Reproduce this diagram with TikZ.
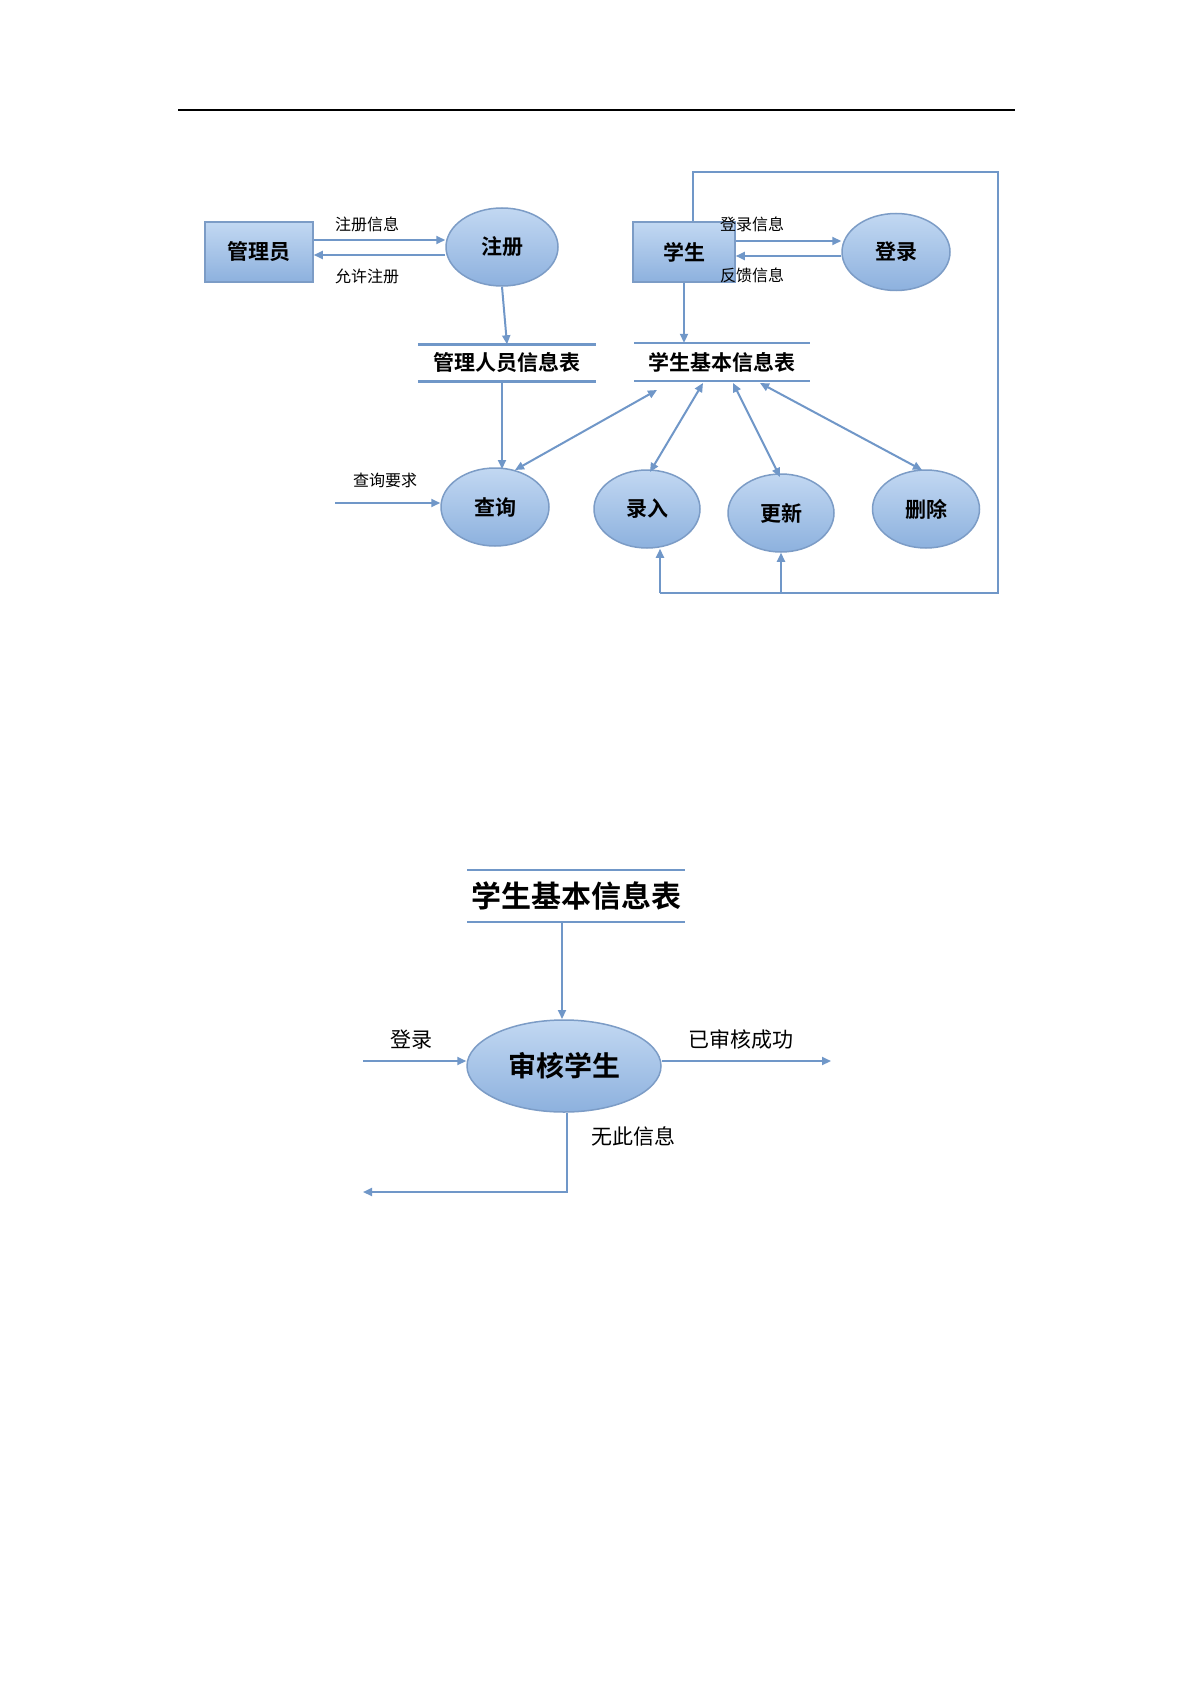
\documentclass[tikz,border=0pt]{standalone}
\usepackage{fontspec}
\setmainfont{Noto Sans CJK SC}
\newfontfamily\cjkb{Noto Sans CJK SC Bold}
\usetikzlibrary{shapes.geometric,arrows.meta}
\definecolor{ln}{HTML}{7097C8}
\definecolor{bd}{HTML}{7C9CC6}
\definecolor{ftop}{HTML}{C2D8F2}
\definecolor{fbot}{HTML}{8DB1DE}
\tikzset{
 ent/.style={draw=bd,line width=1.5pt,top color=ftop,bottom color=fbot,minimum width=108pt,minimum height=60pt,font=\cjkb\fontsize{21}{21}\selectfont},
 proc/.style={draw=bd,line width=1.5pt,ellipse,top color=ftop,bottom color=fbot,inner sep=0pt,font=\cjkb\fontsize{21}{21}\selectfont},
 flow/.style={draw=ln,line width=2pt,-{Triangle[length=9pt,width=8pt]}},
 both/.style={draw=ln,line width=2pt,{Triangle[length=9pt,width=8pt]}-{Triangle[length=9pt,width=8pt]}},
 lbl/.style={font=\fontsize{16}{16}\selectfont},
 st/.style={draw=ln,line width=2.5pt},
}
\begin{document}
\begin{tikzpicture}[x=1pt,y=-1pt]
\useasboundingbox (0,0) rectangle (1192,1685);
\fill[white] (0,0) rectangle (1192,1685);
\draw[line width=1.5pt] (178,110) -- (1015,110);
% top diagram
\node[ent,minimum width=108pt] (gly) at (259,252) {管理员};
\node[proc,minimum width=112pt,minimum height=78pt] (zc) at (502,247) {注册};
\node[ent,minimum width=102pt] (xs) at (684,252) {学生};
\node[proc,minimum width=108pt,minimum height=77pt] (dl) at (896,252) {登录};
\node[proc,minimum width=108pt,minimum height=78pt] (cx) at (495,507) {查询};
\node[proc,minimum width=106pt,minimum height=78pt] (lr) at (647,509) {录入};
\node[proc,minimum width=106pt,minimum height=78pt] (gx) at (781,513) {更新};
\node[proc,minimum width=107pt,minimum height=78pt] (sc) at (926,509) {删除};
\node[font=\cjkb\fontsize{21}{21}\selectfont,minimum width=178pt,minimum height=37pt] (gb) at (507,363) {管理人员信息表};
\draw[st] (gb.north west)--(gb.north east) (gb.south west)--(gb.south east);
\node[font=\cjkb\fontsize{21}{21}\selectfont,minimum width=175pt,minimum height=38pt] (xb) at (722,362) {学生基本信息表};
\draw[st] (xb.north west)--(xb.north east) (xb.south west)--(xb.south east);
\draw[flow] (gly.east|-0,240) -- (zc.west|-0,240);
\draw[flow] (zc.west|-0,255) -- (gly.east|-0,255);
\node[lbl] (l1) at (367,224) {注册信息};
\node[lbl] (l2) at (367,276) {允许注册};
\draw[flow] (xs.east|-0,241) -- (dl.west|-0,241);
\draw[flow] (dl.west|-0,256) -- (xs.east|-0,256);
\node[lbl] (l3) at (752,224) {登录信息};
\node[lbl] (l4) at (752,275) {反馈信息};
\draw[flow] (zc.south) -- (gb.north);
\draw[flow] (xs.south) -- (xb.north-|xs.south);
\draw[flow] (gb.south-|502,0) -- (502,469);
\coordinate (qin) at (335,503);
\draw[flow] (qin) -- (cx.west|-qin);
\node[lbl] (l5) at (385,480) {查询要求};
\draw[both] (515,470) -- (657,390);
\draw[both] (650,472) -- (703,383);
\draw[both] (780,477) -- (733,383);
\draw[both] (922,470) -- (760,383);
\coordinate (c1) at (693,172); \coordinate (c2) at (998,172);
\coordinate (c3) at (998,593); \coordinate (c4) at (660,593); \coordinate (c5) at (781,593);
\draw[ln,line width=2pt] (xs.north-|693,0) -- (c1) -- (c2) -- (c3) -- (c4);
\draw[flow] (c4) -- (lr.south-|c4);
\draw[flow] (c5) -- (gx.south);
% bottom diagram
\node[font=\cjkb\fontsize{30}{30}\selectfont,minimum width=215pt,minimum height=52pt] (xb2) at (576,896) {学生基本信息表};
\draw[st] (xb2.north west)--(xb2.north east) (xb2.south west)--(xb2.south east);
\node[proc,minimum width=194pt,minimum height=92pt,font=\cjkb\fontsize{28}{28}\selectfont] (sh) at (564,1066) {审核学生};
\draw[flow] (xb2.south-|562,0) -- (562,1019);
\coordinate (in2) at (363,1061);
\draw[flow] (in2) -- (sh.west|-in2);
\node[font=\fontsize{21}{21}\selectfont] (l6) at (411,1040) {登录};
\coordinate (out2) at (831,1061);
\draw[flow] (sh.east|-out2) -- (out2);
\node[font=\fontsize{21}{21}\selectfont] (l7) at (741,1040) {已审核成功};
\coordinate (d1) at (567,1192); \coordinate (d2) at (363,1192);
\draw[flow] (sh.south-|d1) -- (d1) -- (d2);
\node[font=\fontsize{21}{21}\selectfont] (l8) at (633,1136) {无此信息};
\end{tikzpicture}
\end{document}
